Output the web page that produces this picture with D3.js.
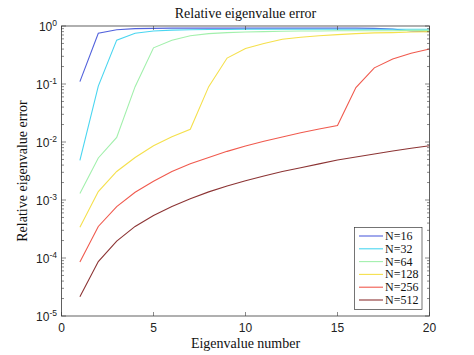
<!DOCTYPE html>
<html><head><meta charset="utf-8">
<script src="https://cdn.jsdelivr.net/npm/d3@7"></script>
<style>body{margin:0;background:#fff}svg{display:block}</style>
</head><body>
<svg id="c" width="474" height="355"></svg>
<script>
const eig = d3.range(1, 21);
const labels = ["N=16","N=32","N=64","N=128","N=256","N=512"];
const colors = ["#5262dc","#4ad6f0","#a2f0ac","#f5e04c","#f05a4e","#8c3434"];
const n16  = [0.11,0.75,0.86,0.9,0.91,0.92,0.92,0.92,0.92,0.92,0.92,0.92,0.92,0.92,0.92,0.92,0.91,0.89,0.82,0.8];
const n32  = [0.0048,0.092,0.57,0.75,0.82,0.85,0.86,0.87,0.87,0.88,0.88,0.88,0.88,0.88,0.88,0.88,0.88,0.88,0.88,0.88];
const n64  = [0.0013,0.0053,0.012,0.09,0.42,0.57,0.68,0.74,0.77,0.79,0.8,0.81,0.82,0.82,0.83,0.83,0.83,0.83,0.84,0.84];
const n128 = [0.00034,0.0014,0.0031,0.0054,0.0086,0.0123,0.0166,0.09,0.28,0.41,0.5,0.59,0.64,0.68,0.71,0.74,0.76,0.77,0.79,0.8];
const n256 = [0.000085,0.00035,0.00077,0.00136,0.0021,0.0031,0.0042,0.0054,0.0069,0.0085,0.0103,0.0122,0.0144,0.0167,0.0192,0.087,0.19,0.27,0.34,0.4];
const n512 = [0.0000215,0.000087,0.000196,0.00035,0.00054,0.00077,0.00105,0.00138,0.00174,0.00215,0.0026,0.0031,0.0036,0.0042,0.0049,0.0055,0.0062,0.007,0.0078,0.0086];
const series = [n16,n32,n64,n128,n256,n512];
const xTicks = [0,5,10,15,20];
const yTicks = [1e-5,1e-4,1e-3,1e-2,1e-1,1];
const yTickExp = ["-5","-4","-3","-2","-1","0"];

const svg = d3.select("#c");
const L=61.5, R=429.5, T=26, B=316;
const x = d3.scaleLinear().domain([0,20]).range([L,R]);
const y = d3.scaleLog().domain([1e-5,1]).range([B,T]);
const axisCol = "#3a3a3a";

// lines
const line = d3.line().x((d,i)=>x(eig[i])).y(d=>y(d));
series.forEach((s,k)=>{
  svg.append("path").datum(s).attr("d",line).attr("fill","none")
    .attr("stroke",colors[k]).attr("stroke-width",1.1);
});

// minor ticks
const minor = [];
for (let e=-5;e<0;e++) for (let m=2;m<10;m++) minor.push(m*Math.pow(10,e));
const g = svg.append("g").attr("stroke",axisCol).attr("stroke-width",0.6);
minor.forEach(v=>{
  g.append("line").attr("x1",L).attr("x2",L+2.5).attr("y1",y(v)).attr("y2",y(v));
  g.append("line").attr("x1",R).attr("x2",R-2.5).attr("y1",y(v)).attr("y2",y(v));
});
yTicks.forEach(v=>{
  g.append("line").attr("x1",L).attr("x2",L+4.5).attr("y1",y(v)).attr("y2",y(v));
  g.append("line").attr("x1",R).attr("x2",R-4.5).attr("y1",y(v)).attr("y2",y(v));
});
xTicks.forEach(v=>{
  g.append("line").attr("x1",x(v)).attr("x2",x(v)).attr("y1",B).attr("y2",B-4);
  g.append("line").attr("x1",x(v)).attr("x2",x(v)).attr("y1",T).attr("y2",T+4);
});
svg.append("rect").attr("x",L).attr("y",T).attr("width",R-L).attr("height",B-T)
  .attr("fill","none").attr("stroke",axisCol).attr("stroke-width",0.8);

// tick labels
const sans = "'Liberation Sans', Arial, sans-serif";
xTicks.forEach(v=>{
  svg.append("text").attr("x",x(v)).attr("y",B+16).attr("text-anchor","middle")
    .attr("font-family",sans).attr("font-size",12).attr("fill","#222").text(v);
});
yTicks.forEach((v,i)=>{
  const t = svg.append("text").attr("x",57).attr("y",y(v)+5).attr("text-anchor","end")
    .attr("font-family",sans).attr("font-size",12).attr("fill","#222");
  t.append("tspan").text("10");
  t.append("tspan").attr("dy",-5).attr("font-size",8.5).text(yTickExp[i]);
});

// title and axis labels
const serif = "'Liberation Serif', 'DejaVu Serif', serif";
svg.append("text").attr("x",245.5).attr("y",18).attr("text-anchor","middle")
  .attr("font-family",serif).attr("font-size",14).attr("fill","#111").text("Relative eigenvalue error");
svg.append("text").attr("x",245.5).attr("y",348).attr("text-anchor","middle")
  .attr("font-family",serif).attr("font-size",14).attr("fill","#111").text("Eigenvalue number");
svg.append("text").attr("transform","translate(27,171) rotate(-90)").attr("text-anchor","middle")
  .attr("font-family",serif).attr("font-size",14).attr("fill","#111").text("Relative eigenvalue error");

// legend
const lg = svg.append("g");
lg.append("rect").attr("x",354.5).attr("y",227.5).attr("width",67.5).attr("height",82)
  .attr("fill","#fff").attr("stroke",axisCol).attr("stroke-width",0.7);
labels.forEach((lab,k)=>{
  const yy = 236 + k*12.8;
  lg.append("line").attr("x1",359).attr("x2",383).attr("y1",yy).attr("y2",yy)
    .attr("stroke",colors[k]).attr("stroke-width",1.1);
  lg.append("text").attr("x",385).attr("y",yy+4).attr("font-family",serif)
    .attr("font-size",12).attr("fill","#111").text(lab);
});
</script>
</body></html>
